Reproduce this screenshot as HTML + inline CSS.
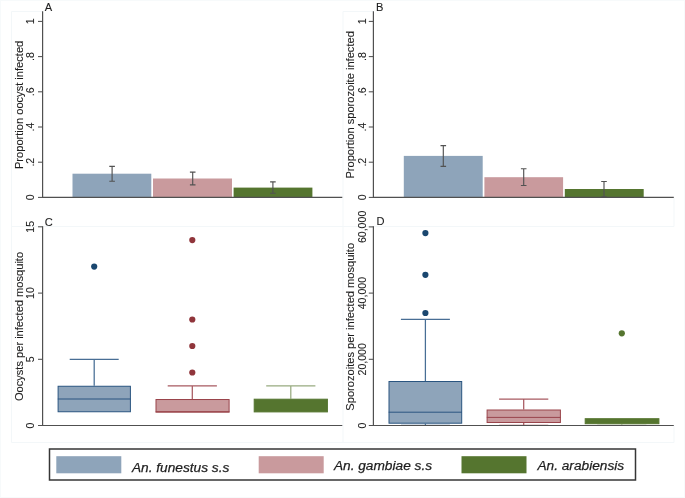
<!DOCTYPE html>
<html lang="en"><head><meta charset="utf-8"><title>Figure</title>
<style>html,body{margin:0;padding:0;background:#fff;overflow:hidden}svg{display:block}</style></head>
<body>
<svg width="685" height="498" viewBox="0 0 685 498" font-family="'Liberation Sans', Arial, sans-serif" fill="#1e1e1e" stroke-width="0.1">
<style>text{stroke:#1e1e1e;stroke-width:inherit}</style>
<rect width="685" height="498" fill="#ffffff"/>
<g stroke="#f3f7f9" stroke-width="1" fill="none">
<rect x="0.5" y="0.5" width="684" height="497" stroke="#f7fafb"/>
<path d="M11.5 11.5V442.5M11.5 11.5H42.6M343 11.5H373.4M343 11.5V442.5M674 197.4V226.5M674 425.5V442.5M11.5 226.5H674M11.5 442.5H674"/>
</g>
<text font-size="10.6" text-anchor="middle" transform="translate(33.9 197.4) rotate(-90)">0</text>
<text font-size="10.6" text-anchor="middle" transform="translate(33.9 162.2) rotate(-90)">.2</text>
<text font-size="10.6" text-anchor="middle" transform="translate(33.9 127.0) rotate(-90)">.4</text>
<text font-size="10.6" text-anchor="middle" transform="translate(33.9 91.8) rotate(-90)">.6</text>
<text font-size="10.6" text-anchor="middle" transform="translate(33.9 56.6) rotate(-90)">.8</text>
<text font-size="10.6" text-anchor="middle" transform="translate(33.9 21.4) rotate(-90)">1</text>
<text font-size="11.1" text-anchor="middle" transform="translate(23.2 104.9) rotate(-90)">Proportion oocyst infected</text>
<text x="44.7" y="10.6" font-size="11.1">A</text>
<rect x="72.5" y="173.7" width="78.8" height="23.3" fill="#8ea4ba"/>
<rect x="153.0" y="178.5" width="79.0" height="18.5" fill="#c99a9d"/>
<rect x="233.6" y="187.6" width="78.8" height="9.4" fill="#55752f"/>
<path d="M112.1 166.3V181.2M109.3 166.3H114.9M109.3 181.2H114.9" stroke="#525252" stroke-width="1.15" fill="none"/>
<path d="M192.7 172.1V184.9M189.9 172.1H195.5M189.9 184.9H195.5" stroke="#525252" stroke-width="1.15" fill="none"/>
<path d="M272.9 181.9V193.2M270.1 181.9H275.7M270.1 193.2H275.7" stroke="#525252" stroke-width="1.15" fill="none"/>
<text font-size="10.6" text-anchor="middle" transform="translate(366.1 197.4) rotate(-90)">0</text>
<text font-size="10.6" text-anchor="middle" transform="translate(366.1 162.2) rotate(-90)">.2</text>
<text font-size="10.6" text-anchor="middle" transform="translate(366.1 127.0) rotate(-90)">.4</text>
<text font-size="10.6" text-anchor="middle" transform="translate(366.1 91.8) rotate(-90)">.6</text>
<text font-size="10.6" text-anchor="middle" transform="translate(366.1 56.6) rotate(-90)">.8</text>
<text font-size="10.6" text-anchor="middle" transform="translate(366.1 21.4) rotate(-90)">1</text>
<text font-size="11.1" text-anchor="middle" transform="translate(353.6 104.9) rotate(-90)">Proportion sporozoite infected</text>
<text x="376.1" y="10.6" font-size="11.1">B</text>
<rect x="403.8" y="155.9" width="78.9" height="41.1" fill="#8ea4ba"/>
<rect x="484.4" y="177.2" width="78.7" height="19.8" fill="#c99a9d"/>
<rect x="564.8" y="189.0" width="78.9" height="8.0" fill="#55752f"/>
<path d="M443.3 145.6V166.4M440.5 145.6H446.1M440.5 166.4H446.1" stroke="#525252" stroke-width="1.15" fill="none"/>
<path d="M523.7 168.7V185.5M520.9 168.7H526.5M520.9 185.5H526.5" stroke="#525252" stroke-width="1.15" fill="none"/>
<path d="M604.0 181.5V196.8M601.2 181.5H606.8M601.2 196.8H606.8" stroke="#525252" stroke-width="1.15" fill="none"/>
<text font-size="10.6" text-anchor="middle" transform="translate(33.9 425.5) rotate(-90)">0</text>
<text font-size="10.6" text-anchor="middle" transform="translate(33.9 359.3) rotate(-90)">5</text>
<text font-size="10.6" text-anchor="middle" transform="translate(33.9 293.1) rotate(-90)">10</text>
<text font-size="10.6" text-anchor="middle" transform="translate(33.9 226.8) rotate(-90)">15</text>
<text font-size="11.1" text-anchor="middle" transform="translate(23.2 326.5) rotate(-90)">Oocysts per infected mosquito</text>
<text x="44.7" y="225.6" font-size="11.1">C</text>
<path d="M94.2 359.3V385.8M69.7 359.3H118.7" stroke="#486e95" stroke-width="1.25" fill="none"/>
<rect x="58.10" y="386.26" width="72.30" height="25.49" fill="#8ea4ba" stroke="#2a5580" stroke-width="1"/>
<path d="M57.8 399.0H130.7" stroke="#2a5580" stroke-width="1" fill="none"/>
<circle cx="94.2" cy="266.6" r="3.1" fill="#1a476f"/>
<path d="M192.3 385.8V399.0M167.7 385.8H216.9" stroke="#a85a61" stroke-width="1.25" fill="none"/>
<rect x="156.00" y="399.51" width="73.10" height="12.64" fill="#c99a9d" stroke="#9a444b" stroke-width="1"/>
<path d="M155.7 411.7H229.4" stroke="#9a444b" stroke-width="1" fill="none"/>
<circle cx="192.3" cy="372.5" r="3.1" fill="#90353b"/>
<circle cx="192.3" cy="346.0" r="3.1" fill="#90353b"/>
<circle cx="192.3" cy="319.5" r="3.1" fill="#90353b"/>
<circle cx="192.3" cy="240.1" r="3.1" fill="#90353b"/>
<path d="M290.8 385.8V398.7M266.2 385.8H315.4" stroke="#98ab80" stroke-width="1.25" fill="none"/>
<rect x="254.20" y="399.20" width="73.20" height="12.70" fill="#55752f" stroke="#55752f" stroke-width="1"/>
<text font-size="10.6" text-anchor="middle" transform="translate(366.1 425.5) rotate(-90)">0</text>
<text font-size="10.6" text-anchor="middle" transform="translate(366.1 359.3) rotate(-90)">20,000</text>
<text font-size="10.6" text-anchor="middle" transform="translate(366.1 293.1) rotate(-90)">40,000</text>
<text font-size="10.6" text-anchor="middle" transform="translate(366.1 226.9) rotate(-90)">60,000</text>
<text font-size="11.1" text-anchor="middle" transform="translate(353.6 326.8) rotate(-90)">Sporozoites per infected mosquito</text>
<text x="376.4" y="225.2" font-size="11.1">D</text>
<path d="M425.4 319.3V381.0M400.9 319.3H449.9M425.4 423.7V425.3M400.9 425.3H449.9" stroke="#486e95" stroke-width="1.25" fill="none"/>
<rect x="389.00" y="381.50" width="72.70" height="41.70" fill="#8ea4ba" stroke="#2a5580" stroke-width="1"/>
<path d="M388.7 412.2H462.0" stroke="#2a5580" stroke-width="1" fill="none"/>
<circle cx="425.4" cy="233.1" r="3.1" fill="#1a476f"/>
<circle cx="425.4" cy="274.8" r="3.1" fill="#1a476f"/>
<circle cx="425.4" cy="313.0" r="3.1" fill="#1a476f"/>
<path d="M523.7 399.2V409.5M499.1 399.2H548.3M523.7 423.0V425.3M499.1 425.3H548.3" stroke="#a85a61" stroke-width="1.25" fill="none"/>
<rect x="487.10" y="410.00" width="73.30" height="12.50" fill="#c99a9d" stroke="#9a444b" stroke-width="1"/>
<path d="M486.8 417.4H560.7" stroke="#9a444b" stroke-width="1" fill="none"/>
<path d="M621.8 424.2V425.3M597.2 425.3H646.4" stroke="#98ab80" stroke-width="1.25" fill="none"/>
<rect x="585.20" y="418.70" width="73.70" height="5.00" fill="#55752f" stroke="#55752f" stroke-width="1"/>
<circle cx="621.8" cy="333.3" r="3.1" fill="#55752f"/>
<g stroke="#505050" stroke-width="1.2" fill="none">
<path d="M42.6 11.3V197.4"/>
<path d="M42.1 197.4H342.3"/>
<path stroke-width="1.05" d="M38.0 197.4H42.6"/>
<path stroke-width="1.05" d="M38.0 162.2H42.6"/>
<path stroke-width="1.05" d="M38.0 127.0H42.6"/>
<path stroke-width="1.05" d="M38.0 91.8H42.6"/>
<path stroke-width="1.05" d="M38.0 56.6H42.6"/>
<path stroke-width="1.05" d="M38.0 21.4H42.6"/>
</g>
<g stroke="#505050" stroke-width="1.2" fill="none">
<path d="M373.4 11.3V197.4"/>
<path d="M372.9 197.4H673.8"/>
<path stroke-width="1.05" d="M368.8 197.4H373.4"/>
<path stroke-width="1.05" d="M368.8 162.2H373.4"/>
<path stroke-width="1.05" d="M368.8 127.0H373.4"/>
<path stroke-width="1.05" d="M368.8 91.8H373.4"/>
<path stroke-width="1.05" d="M368.8 56.6H373.4"/>
<path stroke-width="1.05" d="M368.8 21.4H373.4"/>
</g>
<g stroke="#505050" stroke-width="1.2" fill="none">
<path d="M42.6 226.3V425.5"/>
<path d="M42.1 425.5H342.3"/>
<path stroke-width="1.05" d="M38.0 425.5H42.6"/>
<path stroke-width="1.05" d="M38.0 359.3H42.6"/>
<path stroke-width="1.05" d="M38.0 293.1H42.6"/>
<path stroke-width="1.05" d="M38.0 226.8H42.6"/>
</g>
<g stroke="#505050" stroke-width="1.2" fill="none">
<path d="M373.4 226.3V425.5"/>
<path d="M372.9 425.5H673.8"/>
<path stroke-width="1.05" d="M368.8 425.5H373.4"/>
<path stroke-width="1.05" d="M368.8 359.3H373.4"/>
<path stroke-width="1.05" d="M368.8 293.1H373.4"/>
<path stroke-width="1.05" d="M368.8 226.9H373.4"/>
</g>
<rect x="49.5" y="449" width="586" height="31" fill="#ffffff" stroke="#363636" stroke-width="1.5"/>
<rect x="56.3" y="456.2" width="65" height="17.1" fill="#8ea4ba"/>
<rect x="258.7" y="456.2" width="65" height="17.1" fill="#c99a9d"/>
<rect x="461.5" y="456.2" width="65" height="17.1" fill="#55752f"/>
<g font-style="italic" font-size="13.7" style="stroke-width:0.25px">
<text x="131.9" y="471.6">An. funestus s.s</text>
<text x="333.9" y="469.7">An. gambiae s.s</text>
<text x="537.4" y="469.6">An. arabiensis</text>
</g>
</svg>
</body></html>
